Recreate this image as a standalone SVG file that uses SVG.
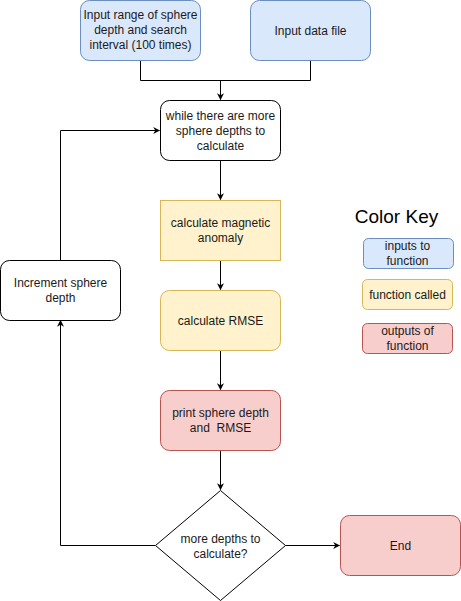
<svg xmlns="http://www.w3.org/2000/svg" width="461" height="601" viewBox="0 0 461 601">
<style>
text{font-family:"Liberation Sans",Arial,sans-serif;font-size:12px;fill:#1a1a1a;text-anchor:middle}
.blue{fill:#dae8fc;stroke:#6c8ebf}
.yel{fill:#fff2cc;stroke:#d6b656}
.red{fill:#f8cecc;stroke:#b85450}
.wht{fill:#ffffff;stroke:#000000}
.ln{fill:none;stroke:#000000;stroke-width:1}
</style>
<defs>
<marker id="ah" viewBox="0 0 10 10" refX="9" refY="5" markerWidth="7" markerHeight="7" markerUnits="userSpaceOnUse" orient="auto">
<path d="M0,0 L10,5 L0,10 L3,5 Z" fill="#000"/>
</marker>
</defs>
<rect width="461" height="601" fill="#ffffff"/>
<g id="connectors">
<path class="ln" d="M140.5,60.5 V80.5 H310.5 V60.5"/>
<path class="ln" d="M220.5,80.5 V99.5" marker-end="url(#ah)"/>
<path class="ln" d="M220.5,160.5 V199.5" marker-end="url(#ah)"/>
<path class="ln" d="M220.5,260.5 V289.5" marker-end="url(#ah)"/>
<path class="ln" d="M220.5,350.5 V389.5" marker-end="url(#ah)"/>
<path class="ln" d="M220.5,450.5 V489.5" marker-end="url(#ah)"/>
<path class="ln" d="M285.5,545.5 H339.5" marker-end="url(#ah)"/>
<path class="ln" d="M155.5,545.5 H60.5 V320.5" marker-end="url(#ah)"/>
<path class="ln" d="M60.5,260.5 V130.5 H159.5" marker-end="url(#ah)"/>
</g>
<g id="input-range">
<rect class="blue" x="80.5" y="0.5" width="120" height="60" rx="9"/>
<text x="140.5" y="19">Input range of sphere</text>
<text x="140.5" y="34">depth and search</text>
<text x="140.5" y="49">interval (100 times)</text>
</g>
<g id="input-data">
<rect class="blue" x="250.5" y="0.5" width="120" height="60" rx="9"/>
<text x="310.5" y="35">Input data file</text>
</g>
<g id="while">
<rect class="wht" x="160.5" y="100.5" width="120" height="60" rx="9"/>
<text x="220.5" y="120">while there are more</text>
<text x="220.5" y="135">sphere depths to</text>
<text x="220.5" y="150">calculate</text>
</g>
<g id="calc-anomaly">
<rect class="yel" x="160.5" y="200.5" width="120" height="60"/>
<text x="220.5" y="227">calculate magnetic</text>
<text x="220.5" y="242">anomaly</text>
</g>
<g id="calc-rmse">
<rect class="yel" x="160.5" y="290.5" width="120" height="60" rx="9"/>
<text x="220.5" y="325">calculate RMSE</text>
</g>
<g id="print">
<rect class="red" x="160.5" y="390.5" width="120" height="60" rx="9"/>
<text x="220.5" y="417">print sphere depth</text>
<text x="220.5" y="432" xml:space="preserve">and  RMSE</text>
</g>
<g id="decision">
<path class="wht" d="M220.5,490.5 L285.5,545.5 L220.5,600.5 L155.5,545.5 Z"/>
<text x="220.5" y="543">more depths to</text>
<text x="220.5" y="558">calculate?</text>
</g>
<g id="end">
<rect class="red" x="340.5" y="515.5" width="120" height="60" rx="9"/>
<text x="400.5" y="550">End</text>
</g>
<g id="increment">
<rect class="wht" x="0.5" y="260.5" width="120" height="60" rx="9"/>
<text x="60.5" y="287">Increment sphere</text>
<text x="60.5" y="302">depth</text>
</g>
<g id="color-key">
<text x="396.5" y="223" style="font-size:19px;fill:#000">Color Key</text>
<rect class="blue" x="363.5" y="238.5" width="90" height="30" rx="5"/>
<text x="407.5" y="250">inputs to</text>
<text x="407.5" y="265">function</text>
<rect class="yel" x="362.5" y="279.5" width="90" height="30" rx="5"/>
<text x="407.5" y="299">function called</text>
<rect class="red" x="362.5" y="323.5" width="90" height="30" rx="5"/>
<text x="407.5" y="335">outputs of</text>
<text x="407.5" y="350">function</text>
</g>
</svg>
